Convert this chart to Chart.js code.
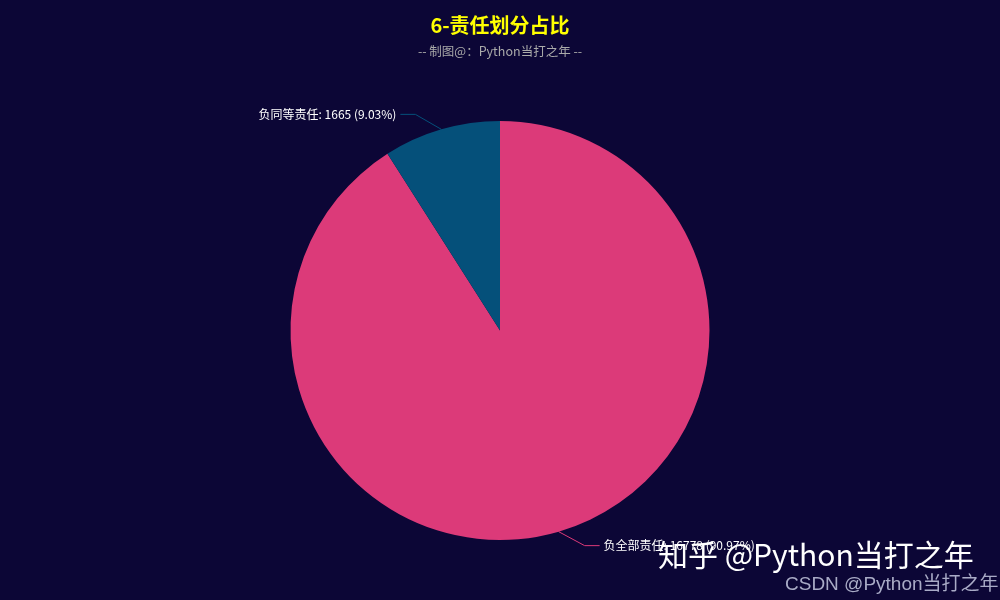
<!DOCTYPE html>
<html>
<head>
<meta charset="utf-8">
<title>6-责任划分占比</title>
<script src="https://cdn.jsdelivr.net/npm/chart.js@4"></script>
<style>
  html, body { margin: 0; padding: 0; background: #0c0636; }
  #wrap { position: relative; width: 1000px; height: 600px; }
  .mark { position: absolute; font-family: "Noto Sans CJK SC", "Noto Sans", sans-serif; white-space: nowrap; }
  #zhihu { left: 658px; top: 531px; font-size: 30px; color: #ffffff; }
  #csdn { left: 785px; top: 568px; font-size: 19px; color: #a9abc6; font-family: "Liberation Sans", "Noto Sans CJK SC", sans-serif; }
</style>
</head>
<body>
<div id="wrap">
  <canvas id="pieChart" width="1000" height="600"></canvas>
  <div class="mark" id="zhihu">知乎 @Python当打之年</div>
  <div class="mark" id="csdn">CSDN @Python当打之年</div>
</div>
<script>
// data
const categories = ['负全部责任', '负同等责任'];
const values = [16778, 1665];
const percents = ['90.97%', '9.03%'];
const sliceColors = ['#dc3a79', '#05507a'];

const FONT = '"Noto Sans CJK SC", "Noto Sans", sans-serif';

// outside labels with leader lines (echarts style)
const outsideLabels = {
  id: 'outsideLabels',
  afterDatasetsDraw(chart) {
    const ctx = chart.ctx;
    const meta = chart.getDatasetMeta(0);
    meta.data.forEach((arc, i) => {
      const mid = (arc.startAngle + arc.endAngle) / 2;
      const r = arc.outerRadius;
      const px = arc.x + r * Math.cos(mid);
      const py = arc.y + r * Math.sin(mid);
      const right = Math.cos(mid) >= 0;
      const down = Math.sin(mid) >= 0;
      const ex = px + (right ? 26 : -26);
      const ey = py + (down ? 14 : -15);
      const hx = ex + (right ? 15 : -15);

      ctx.save();
      ctx.strokeStyle = sliceColors[i];
      ctx.lineWidth = 1;
      ctx.beginPath();
      ctx.moveTo(px, py);
      ctx.lineTo(ex, ey);
      ctx.lineTo(hx, ey);
      ctx.stroke();

      ctx.fillStyle = '#ffffff';
      ctx.font = '12px ' + FONT;
      ctx.textBaseline = 'middle';
      ctx.textAlign = right ? 'left' : 'right';
      ctx.fillText(categories[i] + ': ' + values[i] + ' (' + percents[i] + ')', hx + (right ? 4 : -4), ey);
      ctx.restore();
    });
  }
};

new Chart(document.getElementById('pieChart').getContext('2d'), {
  type: 'pie',
  data: {
    labels: categories,
    datasets: [{
      data: values,
      backgroundColor: sliceColors,
      borderWidth: 0
    }]
  },
  options: {
    responsive: false,
    animation: false,
    layout: { padding: { top: 0, bottom: 60 } },
    plugins: {
      legend: { display: false },
      tooltip: { enabled: false },
      title: {
        display: true,
        text: '6-责任划分占比',
        color: '#ffff00',
        font: { family: FONT, size: 20, weight: 'bold', lineHeight: 1.2 },
        padding: { top: 13, bottom: 3 }
      },
      subtitle: {
        display: true,
        text: '-- 制图@：Python当打之年 --',
        color: '#aaaaaa',
        font: { family: FONT, size: 12.5, lineHeight: 1.2 },
        padding: { top: 4, bottom: 62 }
      }
    }
  },
  plugins: [outsideLabels]
});
</script>
</body>
</html>
